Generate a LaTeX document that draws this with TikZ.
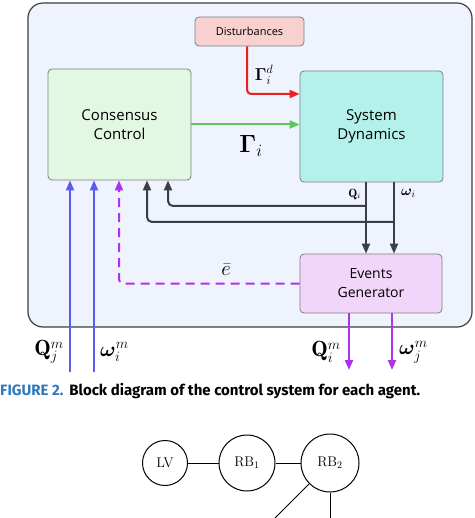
\documentclass[tikz,border=0pt]{standalone}
\usepackage{amsmath}
\usepackage{amssymb}
\usepackage{bm}
\usepackage{fontspec}
\newfontfamily\boxfont{Open Sans}
\newfontfamily\capfont{Fira Sans}
\usetikzlibrary{arrows.meta}

\definecolor{panelbg}{HTML}{EEF3FD}
\definecolor{consbg}{HTML}{E2F8E3}
\definecolor{sysbg}{HTML}{B4F1EA}
\definecolor{distbg}{HTML}{F9D0D0}
\definecolor{eventbg}{HTML}{F1D6F9}
\definecolor{edge}{HTML}{7A7F85}
\definecolor{redline}{HTML}{E82222}
\definecolor{greenline}{HTML}{5CC85C}
\definecolor{darkline}{HTML}{3A3F44}
\definecolor{blueline}{HTML}{5A5AF2}
\definecolor{magline}{HTML}{B030F0}
\definecolor{capblue}{HTML}{2F78C0}

\tikzset{
  block/.style={draw=edge, line width=0.8pt, rounded corners=4pt, align=center,
                font=\boxfont\fontsize{15}{19}\selectfont},
  sig/.style={line width=2pt, -{Triangle[length=10pt,width=8pt]}},
  lbl/.style={inner sep=0pt},
  agent/.style={circle, draw, line width=1pt, inner sep=0pt,
                font=\fontsize{14}{16}\selectfont}
}

\begin{document}
\begin{tikzpicture}[x=1pt, y=-1pt]
  \useasboundingbox (0,0) rectangle (474,518);
  \clip (0,0) rectangle (474,518);

  % agent panel
  \draw[fill=panelbg, draw=darkline, line width=1.2pt, rounded corners=15pt]
    (28,3) rectangle (472,327);

  \node[block, fill=distbg, minimum width=109pt, minimum height=29pt,
        font=\boxfont\fontsize{11}{13}\selectfont] (dist) at (249.5,31.5) {Disturbances};
  \node[block, fill=consbg, minimum width=143pt, minimum height=111pt] (cons) at (119.5,124.5) {Consensus\\Control};
  \node[block, fill=sysbg, minimum width=143pt, minimum height=111pt] (sysdyn) at (371.5,126.5) {System\\Dynamics};
  \node[block, fill=eventbg, minimum width=142pt, minimum height=59pt,
        font=\boxfont\fontsize{14}{19}\selectfont] (events) at (371,283.5) {Events\\Generator};

  % columns of the signal lines
  \coordinate (dk) at (247,94);
  \coordinate (qx) at (366,206);
  \coordinate (wx) at (394,222);
  \coordinate (cq) at (168,0);
  \coordinate (cw) at (147,0);
  \coordinate (ce) at (119,0);
  \coordinate (bq) at (70,372);
  \coordinate (bw) at (94,372);
  \coordinate (oq) at (349,370);
  \coordinate (ow) at (392,370);

  \draw[sig, redline, rounded corners=4pt] (dist.south -| dk) |- (sysdyn.west |- dk);
  \draw[sig, greenline] (cons.east) -- (cons.east -| sysdyn.west);

  \draw[sig, darkline] (sysdyn.south -| qx) -- (events.north -| qx);
  \draw[sig, darkline] (sysdyn.south -| wx) -- (events.north -| wx);
  \draw[sig, darkline, rounded corners=5pt] (qx) -| (cons.south -| cq);
  \draw[sig, darkline, rounded corners=5pt] (wx) -| (cons.south -| cw);

  \draw[sig, magline, dash pattern=on 9pt off 6pt, rounded corners=4pt]
    (events.west) -| (cons.south -| ce);

  \draw[sig, blueline] (bq) -- (cons.south -| bq);
  \draw[sig, blueline] (bw) -- (cons.south -| bw);
  \draw[sig, magline] (events.south -| oq) -- (oq);
  \draw[sig, magline] (events.south -| ow) -- (ow);

  % signal names
  \node[lbl] (gd) at (264,75) {\fontsize{17}{17}\selectfont$\bm{\Gamma}_i^d$};
  \node[lbl] (g) at (251,146) {\fontsize{25}{25}\selectfont$\bm{\Gamma}_i$};
  \node[lbl, anchor=east] (qi) at (361,194) {\fontsize{12}{12}\selectfont$\mathbf{Q}_i$};
  \node[lbl, anchor=west] (wi) at (401,193) {\fontsize{14}{14}\selectfont$\bm{\omega}_i$};
  \node[lbl] (eb) at (226,270) {\fontsize{22}{22}\selectfont$\bar{e}$};
  \node[lbl, anchor=east] (qjm) at (64,352) {\fontsize{22}{22}\selectfont$\mathbf{Q}_j^m$};
  \node[lbl, anchor=west] (wim) at (100,352) {\fontsize{22}{22}\selectfont$\bm{\omega}_i^m$};
  \node[lbl, anchor=east] (qim) at (341,352) {\fontsize{22}{22}\selectfont$\mathbf{Q}_i^m$};
  \node[lbl, anchor=west] (wjm) at (399,352) {\fontsize{22}{22}\selectfont$\bm{\omega}_j^m$};

  % caption
  \node[anchor=base west, inner sep=0pt, font=\capfont\bfseries\fontsize{15}{18}\selectfont] (cap) at (0,395)
    {\textcolor{capblue}{FIGURE 2.}\hspace{6pt}Block diagram of the control system for each agent.};

  % next figure, cut at the page edge
  \node[agent, minimum size=45pt] (lv) at (165,463) {LV};
  \node[agent, minimum size=56pt] (rb1) at (247,463) {RB$_1$};
  \node[agent, minimum size=58pt] (rb2) at (330,463) {RB$_2$};
  \node[agent, minimum size=56pt] (rb3) at (246,547) {};
  \node[agent, minimum size=56pt] (rb4) at (330,547) {};
  \draw[line width=1pt] (lv) -- (rb1);
  \draw[line width=1pt] (rb1) -- (rb2);
  \draw[line width=1pt] (rb2) -- (rb3);
  \draw[line width=1pt] (rb2) -- (rb4);
\end{tikzpicture}
\end{document}
